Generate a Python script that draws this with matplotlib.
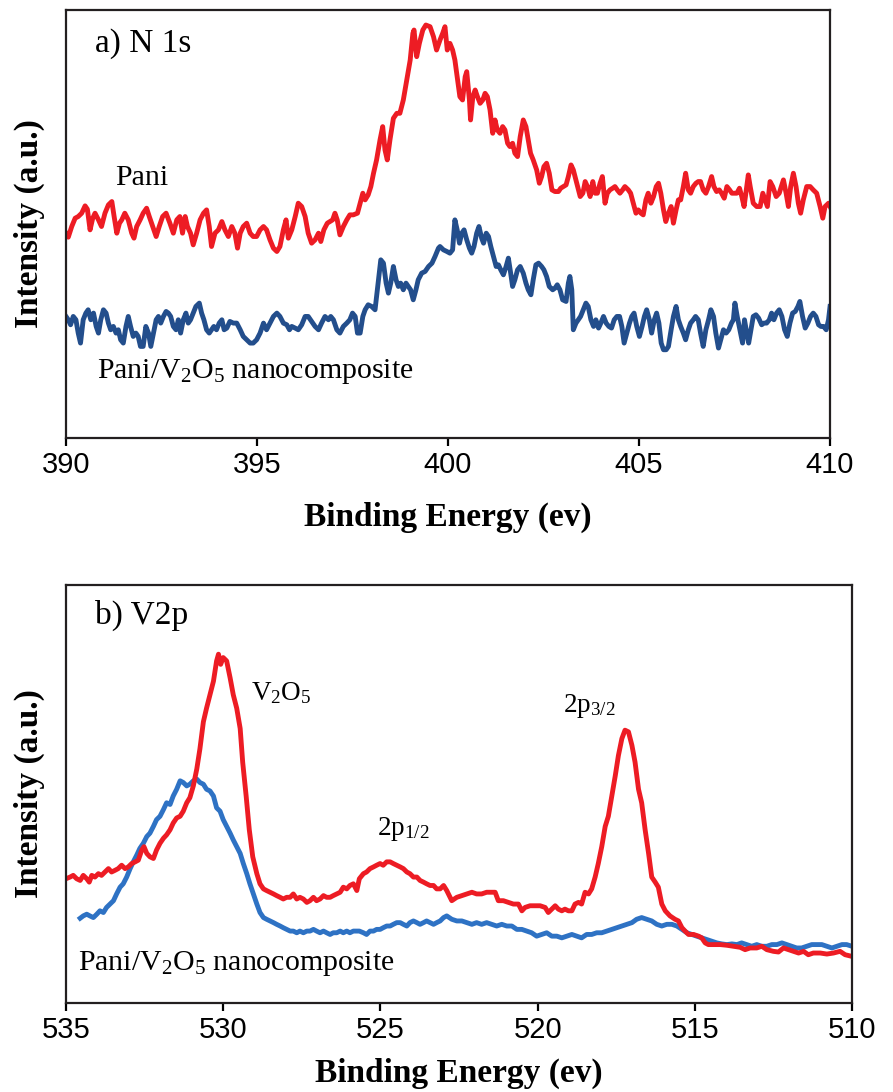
import matplotlib
matplotlib.use("Agg")
import matplotlib.pyplot as plt

plt.rcParams['mathtext.fontset'] = 'custom'
plt.rcParams['mathtext.rm'] = 'Liberation Serif'
plt.rcParams['mathtext.it'] = 'Liberation Serif:italic'

# ---------------- Panel a) N 1s (eV, intensity a.u.) ----------------
n1s_pani = [
    (390.00, 61.5), (390.06, 60.3), (390.15, 63.5), (390.24, 66.0), (390.32, 66.5), (390.41, 67.5),
    (390.50, 69.7), (390.56, 68.7), (390.63, 62.5), (390.70, 66.0), (390.76, 67.5), (390.85, 65.5),
    (390.93, 63.5), (391.02, 67.5), (391.11, 70.0), (391.20, 71.0), (391.26, 66.5), (391.33, 61.5),
    (391.40, 64.5), (391.46, 65.5), (391.54, 67.5), (391.63, 65.5), (391.72, 61.5), (391.78, 60.0),
    (391.85, 63.5), (391.94, 65.5), (392.02, 67.5), (392.11, 69.0), (392.18, 66.5), (392.27, 63.5),
    (392.36, 60.5), (392.44, 63.5), (392.53, 66.5), (392.62, 67.5), (392.72, 64.5), (392.81, 61.5),
    (392.90, 65.5), (392.98, 66.5), (393.05, 61.5), (393.12, 66.5), (393.18, 63.5), (393.26, 61.5),
    (393.33, 58.0), (393.42, 61.5), (393.51, 65.5), (393.60, 67.5), (393.68, 68.5), (393.75, 63.5),
    (393.81, 57.5), (393.90, 61.5), (393.99, 62.5), (394.08, 65.0), (394.16, 62.5), (394.25, 60.5),
    (394.34, 63.5), (394.42, 61.5), (394.49, 57.0), (394.56, 61.5), (394.64, 63.5), (394.73, 64.5),
    (394.82, 61.5), (394.90, 60.5), (394.99, 60.5), (395.08, 62.5), (395.17, 63.5), (395.25, 62.5),
    (395.34, 59.5), (395.43, 57.0), (395.52, 56.0), (395.60, 57.5), (395.69, 62.5), (395.76, 65.5),
    (395.82, 60.0), (395.91, 62.5), (396.00, 66.5), (396.08, 70.5), (396.17, 69.5), (396.26, 66.5),
    (396.34, 61.5), (396.43, 58.5), (396.52, 59.5), (396.61, 61.5), (396.67, 59.0), (396.75, 62.5),
    (396.84, 64.5), (396.91, 65.0), (396.98, 65.5), (397.04, 67.5), (397.10, 65.5), (397.17, 61.0),
    (397.26, 63.5), (397.35, 65.5), (397.43, 67.0), (397.52, 67.0), (397.63, 67.5), (397.70, 70.5),
    (397.77, 73.5), (397.83, 71.5), (397.91, 73.0), (397.98, 75.5), (398.05, 79.5), (398.13, 83.5),
    (398.22, 89.5), (398.29, 93.5), (398.35, 86.5), (398.41, 83.5), (398.48, 89.5), (398.57, 96.0),
    (398.66, 97.5), (398.74, 97.5), (398.83, 101.5), (398.92, 107.5), (399.01, 113.5), (399.08, 121.5),
    (399.11, 122.5), (399.18, 114.5), (399.25, 118.5), (399.34, 122.5), (399.42, 124.0), (399.53, 123.5),
    (399.62, 120.5), (399.70, 116.5), (399.79, 119.5), (399.86, 121.5), (399.92, 123.5), (399.98, 116.5),
    (400.05, 118.5), (400.12, 116.5), (400.18, 113.5), (400.24, 108.5), (400.31, 102.5), (400.38, 101.5),
    (400.45, 108.5), (400.49, 110.0), (400.56, 101.5), (400.59, 95.5), (400.65, 102.5), (400.71, 104.5),
    (400.77, 102.5), (400.84, 100.5), (400.91, 101.5), (400.97, 103.5), (401.03, 102.5), (401.10, 98.5),
    (401.17, 91.5), (401.23, 95.5), (401.29, 92.5), (401.36, 91.5), (401.43, 93.5), (401.49, 92.5),
    (401.56, 88.5), (401.62, 87.5), (401.69, 88.5), (401.75, 85.5), (401.82, 84.5), (401.89, 90.5),
    (401.97, 95.5), (402.04, 93.5), (402.10, 89.5), (402.16, 85.5), (402.23, 83.5), (402.32, 80.5),
    (402.39, 76.5), (402.45, 78.5), (402.51, 81.5), (402.58, 82.5), (402.65, 79.5), (402.72, 74.5),
    (402.80, 74.0), (402.89, 74.0), (402.95, 75.0), (403.02, 75.5), (403.09, 76.0), (403.15, 78.5),
    (403.22, 82.0), (403.28, 80.5), (403.37, 76.5), (403.46, 72.5), (403.53, 73.5), (403.59, 77.0),
    (403.65, 75.5), (403.72, 72.5), (403.79, 77.0), (403.85, 73.5), (403.91, 73.5), (403.98, 76.5),
    (404.04, 78.5), (404.11, 70.5), (404.17, 73.5), (404.24, 74.5), (404.31, 75.0), (404.37, 75.5),
    (404.43, 74.5), (404.50, 73.5), (404.57, 74.5), (404.63, 75.5), (404.72, 74.5), (404.78, 73.5),
    (404.85, 70.5), (404.92, 67.5), (404.98, 68.5), (405.05, 67.5), (405.11, 67.0), (405.18, 71.5),
    (405.24, 73.5), (405.31, 70.5), (405.38, 72.5), (405.45, 75.5), (405.51, 76.5), (405.57, 73.5),
    (405.64, 68.5), (405.70, 65.0), (405.77, 67.5), (405.84, 69.5), (405.90, 64.5), (405.97, 68.5),
    (406.03, 71.5), (406.09, 71.5), (406.16, 75.5), (406.22, 79.5), (406.29, 74.5), (406.35, 73.5),
    (406.42, 75.5), (406.49, 76.5), (406.55, 77.0), (406.61, 77.0), (406.68, 74.5), (406.75, 73.5),
    (406.82, 75.5), (406.90, 78.5), (406.96, 75.5), (407.03, 74.0), (407.10, 74.5), (407.16, 73.5),
    (407.23, 72.0), (407.30, 75.5), (407.37, 74.5), (407.43, 73.5), (407.49, 73.5), (407.56, 73.5),
    (407.63, 75.0), (407.69, 72.5), (407.75, 69.5), (407.82, 75.5), (407.86, 79.0), (407.91, 75.5),
    (407.99, 70.5), (408.08, 69.5), (408.17, 69.5), (408.24, 73.5), (408.30, 71.5), (408.36, 69.5),
    (408.43, 77.0), (408.50, 75.5), (408.59, 72.5), (408.67, 73.5), (408.78, 77.5), (408.85, 73.5),
    (408.91, 69.5), (408.97, 75.5), (409.04, 79.5), (409.11, 75.5), (409.17, 70.5), (409.23, 67.5),
    (409.30, 71.5), (409.39, 75.5), (409.48, 75.5), (409.56, 74.5), (409.65, 73.5), (409.74, 69.5),
    (409.81, 66.0), (409.87, 69.5), (409.96, 70.5), (410.00, 69.5),
]

n1s_composite = [
    (390.00, 36.5), (390.06, 35.5), (390.12, 34.0), (390.19, 36.5), (390.26, 35.5), (390.32, 31.5),
    (390.38, 28.5), (390.45, 35.5), (390.52, 37.5), (390.58, 38.5), (390.65, 35.5), (390.72, 37.5),
    (390.79, 33.5), (390.85, 31.5), (390.91, 35.5), (390.98, 38.5), (391.05, 37.5), (391.11, 34.5),
    (391.17, 32.5), (391.24, 33.5), (391.31, 31.5), (391.37, 32.5), (391.43, 29.5), (391.50, 28.5),
    (391.57, 33.5), (391.63, 36.5), (391.69, 33.5), (391.76, 30.5), (391.83, 31.5), (391.89, 30.5),
    (391.95, 27.5), (392.02, 27.5), (392.09, 33.5), (392.16, 31.5), (392.22, 27.5), (392.29, 31.5),
    (392.36, 35.5), (392.42, 36.5), (392.48, 34.5), (392.55, 36.5), (392.62, 38.0), (392.68, 37.5),
    (392.74, 36.5), (392.81, 33.5), (392.88, 32.5), (392.94, 35.5), (393.00, 31.5), (393.07, 35.5),
    (393.14, 37.5), (393.20, 34.5), (393.26, 35.5), (393.33, 37.5), (393.40, 39.5), (393.49, 40.5),
    (393.55, 37.5), (393.61, 35.5), (393.68, 32.5), (393.75, 31.5), (393.81, 32.5), (393.87, 33.5),
    (393.94, 32.5), (394.01, 34.5), (394.08, 35.5), (394.14, 32.5), (394.21, 33.0), (394.29, 35.0),
    (394.38, 34.5), (394.47, 34.5), (394.56, 32.5), (394.64, 30.5), (394.73, 29.5), (394.82, 28.5),
    (394.90, 28.5), (394.99, 29.5), (395.08, 31.5), (395.17, 34.5), (395.25, 32.5), (395.34, 34.5),
    (395.43, 36.5), (395.52, 37.5), (395.60, 36.5), (395.69, 34.5), (395.78, 34.0), (395.85, 32.5),
    (395.91, 33.5), (396.00, 33.0), (396.08, 32.5), (396.17, 34.0), (396.26, 36.5), (396.34, 36.5),
    (396.43, 35.0), (396.52, 33.5), (396.61, 32.5), (396.69, 34.5), (396.78, 36.5), (396.87, 35.5),
    (396.93, 36.5), (397.00, 35.5), (397.09, 32.5), (397.17, 31.5), (397.26, 33.5), (397.35, 34.5),
    (397.43, 35.5), (397.50, 37.5), (397.57, 36.5), (397.63, 31.5), (397.70, 31.5), (397.77, 36.5),
    (397.83, 38.5), (397.91, 40.0), (398.00, 39.5), (398.09, 38.5), (398.18, 47.5), (398.24, 53.5),
    (398.31, 52.5), (398.38, 46.5), (398.44, 43.5), (398.50, 46.5), (398.57, 51.5), (398.64, 47.5),
    (398.70, 45.5), (398.76, 46.5), (398.83, 44.5), (398.90, 46.5), (398.96, 45.5), (399.02, 44.5),
    (399.09, 41.5), (399.16, 44.5), (399.22, 47.5), (399.31, 49.5), (399.40, 50.0), (399.49, 51.5),
    (399.58, 52.5), (399.66, 54.5), (399.75, 57.0), (399.79, 57.5), (399.88, 56.5), (399.97, 56.0),
    (400.05, 55.5), (400.12, 56.5), (400.18, 65.5), (400.24, 62.5), (400.30, 58.5), (400.36, 61.5),
    (400.42, 62.5), (400.49, 59.5), (400.56, 57.0), (400.62, 55.5), (400.68, 57.5), (400.75, 61.5),
    (400.81, 63.5), (400.88, 60.0), (400.93, 58.5), (401.00, 61.5), (401.06, 60.5), (401.12, 57.5),
    (401.19, 54.5), (401.26, 51.5), (401.32, 52.0), (401.38, 50.5), (401.45, 49.0), (401.52, 51.5),
    (401.58, 54.0), (401.64, 49.5), (401.69, 45.5), (401.75, 47.5), (401.82, 50.5), (401.89, 51.5),
    (401.97, 49.5), (402.04, 46.5), (402.10, 44.5), (402.17, 43.0), (402.23, 47.5), (402.30, 52.0),
    (402.37, 52.5), (402.45, 51.5), (402.51, 50.5), (402.58, 48.5), (402.65, 45.5), (402.74, 44.5),
    (402.80, 45.0), (402.86, 46.0), (402.93, 44.5), (403.00, 41.5), (403.09, 41.0), (403.15, 46.5),
    (403.19, 48.5), (403.24, 44.5), (403.28, 32.5), (403.35, 34.5), (403.41, 35.5), (403.47, 36.5),
    (403.54, 38.5), (403.61, 40.5), (403.67, 39.5), (403.74, 35.5), (403.81, 33.5), (403.87, 35.5),
    (403.94, 33.0), (404.00, 34.5), (404.07, 36.5), (404.14, 34.5), (404.21, 33.5), (404.28, 33.0),
    (404.35, 35.5), (404.42, 36.5), (404.49, 36.5), (404.55, 33.5), (404.61, 28.5), (404.68, 31.5),
    (404.75, 34.5), (404.81, 36.5), (404.87, 37.5), (404.94, 33.5), (405.01, 30.5), (405.08, 33.5),
    (405.14, 36.5), (405.20, 38.5), (405.27, 35.5), (405.33, 31.5), (405.40, 35.5), (405.46, 37.5),
    (405.52, 34.5), (405.58, 28.5), (405.64, 26.5), (405.71, 26.5), (405.77, 27.5), (405.84, 32.5),
    (405.90, 36.5), (405.97, 39.5), (406.03, 35.5), (406.09, 33.5), (406.16, 31.5), (406.22, 29.5),
    (406.29, 32.5), (406.35, 34.5), (406.42, 35.5), (406.48, 36.5), (406.55, 35.5), (406.61, 31.5),
    (406.68, 27.5), (406.75, 32.5), (406.82, 35.5), (406.88, 38.5), (406.95, 36.5), (407.01, 31.5),
    (407.08, 27.0), (407.14, 29.5), (407.21, 32.5), (407.28, 31.5), (407.35, 32.5), (407.42, 34.5),
    (407.47, 35.5), (407.51, 40.5), (407.57, 36.5), (407.64, 32.5), (407.71, 28.5), (407.76, 35.5),
    (407.82, 31.5), (407.87, 28.5), (407.93, 32.5), (407.99, 36.5), (408.06, 37.0), (408.13, 36.0),
    (408.21, 34.0), (408.27, 34.5), (408.34, 34.5), (408.41, 35.5), (408.47, 37.5), (408.53, 35.5),
    (408.60, 37.5), (408.67, 38.5), (408.74, 36.5), (408.81, 32.5), (408.88, 30.5), (408.95, 34.5),
    (409.02, 37.5), (409.09, 38.0), (409.16, 39.5), (409.21, 41.0), (409.28, 36.5), (409.35, 33.0),
    (409.42, 34.5), (409.49, 36.5), (409.56, 37.5), (409.63, 36.5), (409.70, 34.0), (409.76, 33.5),
    (409.83, 33.5), (409.90, 32.5), (409.96, 35.5), (410.00, 39.5),
]

# ---------------- Panel b) V 2p (eV, intensity a.u.) ----------------
v2p_v2o5 = [
    (535.00, 36.8), (534.87, 37.3), (534.77, 37.8), (534.66, 36.8), (534.55, 36.3), (534.45, 37.8),
    (534.34, 36.8), (534.26, 35.8), (534.18, 37.8), (534.08, 37.3), (533.97, 38.3), (533.87, 37.8),
    (533.76, 38.8), (533.65, 39.8), (533.55, 38.8), (533.44, 39.3), (533.34, 39.8), (533.23, 40.8),
    (533.12, 39.8), (533.02, 40.3), (532.91, 41.3), (532.80, 41.8), (532.70, 42.3), (532.59, 45.3),
    (532.52, 46.3), (532.43, 44.3), (532.33, 43.3), (532.22, 42.8), (532.12, 45.3), (532.01, 47.3),
    (531.90, 48.8), (531.80, 49.8), (531.69, 51.3), (531.59, 53.3), (531.48, 54.8), (531.37, 55.3),
    (531.27, 56.8), (531.16, 59.3), (531.06, 60.8), (530.95, 64.3), (530.84, 69.3), (530.74, 75.3),
    (530.63, 83.3), (530.53, 87.3), (530.42, 91.3), (530.31, 95.3), (530.21, 101.3), (530.15, 103.3),
    (530.08, 100.3), (530.00, 102.3), (529.89, 101.3), (529.78, 96.3), (529.68, 91.3), (529.57, 87.3),
    (529.46, 81.3), (529.38, 71.3), (529.27, 61.3), (529.17, 51.3), (529.06, 43.3), (528.93, 38.3),
    (528.83, 35.3), (528.72, 33.8), (528.62, 33.3), (528.51, 32.8), (528.40, 32.3), (528.30, 31.8),
    (528.19, 31.3), (528.09, 30.8), (527.98, 31.3), (527.87, 31.3), (527.77, 32.3), (527.66, 30.8),
    (527.56, 31.3), (527.45, 30.8), (527.34, 29.8), (527.24, 30.3), (527.13, 31.3), (527.03, 30.3),
    (526.92, 30.8), (526.81, 31.8), (526.71, 31.3), (526.60, 31.3), (526.50, 31.8), (526.39, 32.3),
    (526.28, 32.8), (526.18, 34.3), (526.07, 33.8), (525.97, 34.8), (525.86, 35.3), (525.75, 33.3),
    (525.67, 36.8), (525.54, 38.3), (525.44, 38.8), (525.33, 39.8), (525.22, 40.3), (525.12, 40.8),
    (525.01, 41.3), (524.91, 40.8), (524.80, 41.8), (524.69, 41.8), (524.59, 41.3), (524.48, 40.8),
    (524.37, 40.3), (524.27, 39.8), (524.16, 38.8), (524.06, 38.3), (523.95, 37.3), (523.84, 37.3),
    (523.74, 36.3), (523.63, 35.8), (523.53, 35.3), (523.42, 34.8), (523.31, 34.8), (523.21, 33.8),
    (523.10, 33.8), (522.99, 34.8), (522.89, 33.3), (522.73, 30.3), (522.57, 31.3), (522.41, 31.8),
    (522.25, 32.3), (522.09, 32.8), (521.94, 32.3), (521.78, 32.3), (521.62, 32.8), (521.46, 32.8),
    (521.35, 32.8), (521.25, 30.3), (521.09, 30.3), (520.93, 29.8), (520.77, 29.3), (520.61, 29.3),
    (520.50, 27.3), (520.40, 28.3), (520.24, 28.8), (520.08, 28.8), (519.92, 28.8), (519.76, 28.3),
    (519.66, 26.8), (519.55, 27.8), (519.44, 28.8), (519.34, 27.8), (519.23, 27.3), (519.13, 27.8),
    (519.02, 27.3), (518.91, 27.3), (518.81, 29.3), (518.70, 29.8), (518.60, 29.3), (518.49, 32.8),
    (518.38, 32.3), (518.28, 33.8), (518.17, 37.3), (518.07, 41.3), (517.96, 46.3), (517.85, 52.3),
    (517.75, 55.3), (517.64, 61.3), (517.53, 67.3), (517.43, 73.3), (517.32, 78.3), (517.22, 80.8),
    (517.11, 80.3), (517.00, 76.3), (516.90, 71.3), (516.79, 63.3), (516.69, 59.3), (516.58, 51.3),
    (516.47, 44.3), (516.37, 37.3), (516.26, 35.8), (516.16, 34.3), (516.05, 29.3), (515.94, 27.3),
    (515.79, 25.8), (515.63, 24.8), (515.52, 24.3), (515.41, 22.3), (515.31, 21.3), (515.20, 20.3),
    (515.04, 20.3), (514.88, 19.8), (514.78, 19.3), (514.67, 17.8), (514.57, 17.3), (514.41, 17.3),
    (514.19, 17.3), (513.98, 17.1), (513.77, 16.8), (513.56, 16.5), (513.40, 15.8), (513.24, 16.3),
    (513.03, 16.3), (512.87, 16.8), (512.71, 15.8), (512.50, 15.3), (512.34, 15.1), (512.18, 16.3),
    (512.02, 15.8), (511.86, 15.3), (511.70, 14.8), (511.54, 15.3), (511.39, 14.3), (511.23, 14.8),
    (511.01, 14.8), (510.80, 14.5), (510.59, 14.8), (510.38, 15.3), (510.22, 14.3), (510.00, 13.8),
]

v2p_composite = [
    (534.55, 25.1), (534.45, 25.8), (534.34, 26.3), (534.24, 25.8), (534.13, 25.3), (534.02, 26.3),
    (533.92, 27.3), (533.81, 26.8), (533.71, 28.3), (533.60, 29.3), (533.49, 30.3), (533.39, 32.3),
    (533.28, 34.3), (533.18, 35.3), (533.07, 37.3), (532.96, 39.8), (532.86, 41.8), (532.75, 43.8),
    (532.65, 45.8), (532.54, 47.3), (532.43, 49.3), (532.33, 50.3), (532.22, 52.3), (532.12, 54.3),
    (532.01, 55.3), (531.90, 57.3), (531.80, 59.3), (531.69, 58.8), (531.59, 61.3), (531.48, 63.3),
    (531.37, 65.8), (531.27, 65.3), (531.16, 64.3), (531.06, 64.8), (530.95, 65.8), (530.84, 66.3),
    (530.74, 65.3), (530.63, 64.8), (530.53, 63.3), (530.42, 62.8), (530.31, 61.3), (530.21, 57.8),
    (530.10, 56.8), (530.00, 54.3), (529.89, 52.3), (529.78, 50.3), (529.68, 48.3), (529.57, 46.3),
    (529.46, 44.3), (529.36, 41.3), (529.25, 38.3), (529.15, 35.3), (529.04, 32.3), (528.93, 29.3),
    (528.83, 26.8), (528.72, 25.3), (528.62, 24.8), (528.51, 24.3), (528.40, 23.8), (528.30, 23.3),
    (528.19, 22.8), (528.09, 22.3), (527.98, 21.8), (527.87, 21.3), (527.77, 21.3), (527.66, 20.8),
    (527.56, 21.3), (527.45, 20.8), (527.34, 21.3), (527.24, 21.3), (527.13, 21.8), (527.03, 21.3),
    (526.92, 20.8), (526.81, 21.3), (526.71, 20.8), (526.60, 20.3), (526.50, 20.8), (526.39, 20.8),
    (526.28, 21.3), (526.18, 20.8), (526.07, 21.3), (525.97, 20.8), (525.86, 21.3), (525.75, 21.3),
    (525.67, 21.3), (525.54, 20.8), (525.44, 20.3), (525.33, 21.3), (525.22, 21.3), (525.12, 21.8),
    (525.01, 21.8), (524.91, 22.3), (524.80, 22.8), (524.69, 22.8), (524.59, 23.3), (524.48, 23.8),
    (524.37, 23.8), (524.27, 23.3), (524.16, 22.8), (524.06, 23.8), (523.95, 24.3), (523.84, 23.8),
    (523.74, 23.3), (523.63, 23.8), (523.53, 24.3), (523.42, 23.8), (523.31, 23.3), (523.21, 23.8),
    (523.10, 24.3), (522.99, 25.3), (522.89, 25.8), (522.73, 24.8), (522.57, 24.3), (522.41, 24.3),
    (522.25, 23.8), (522.09, 23.3), (521.94, 23.8), (521.78, 23.3), (521.62, 23.8), (521.46, 23.3),
    (521.30, 22.8), (521.14, 23.3), (520.98, 22.8), (520.82, 22.8), (520.66, 21.8), (520.50, 21.8),
    (520.35, 21.3), (520.19, 20.8), (520.03, 19.8), (519.87, 20.3), (519.71, 20.8), (519.55, 19.8),
    (519.39, 19.8), (519.23, 19.3), (519.07, 19.8), (518.91, 20.3), (518.75, 19.8), (518.60, 19.3),
    (518.44, 20.3), (518.28, 20.3), (518.12, 20.8), (517.96, 20.8), (517.80, 21.3), (517.64, 21.8),
    (517.48, 22.3), (517.32, 22.8), (517.16, 23.3), (517.00, 23.8), (516.85, 24.8), (516.69, 25.3),
    (516.53, 24.8), (516.37, 24.3), (516.21, 23.3), (516.05, 22.8), (515.89, 23.3), (515.73, 23.3),
    (515.57, 22.8), (515.41, 21.8), (515.25, 20.8), (515.10, 20.3), (514.94, 19.8), (514.78, 19.3),
    (514.62, 18.8), (514.46, 18.3), (514.30, 17.8), (514.14, 17.5), (513.98, 17.3), (513.82, 17.5),
    (513.66, 17.3), (513.51, 17.8), (513.35, 17.3), (513.19, 16.8), (513.03, 17.3), (512.87, 16.8),
    (512.71, 16.8), (512.55, 17.3), (512.39, 17.3), (512.23, 17.8), (512.07, 17.3), (511.92, 16.8),
    (511.76, 16.3), (511.60, 16.3), (511.44, 16.8), (511.28, 17.3), (511.12, 17.3), (510.96, 17.3),
    (510.80, 16.8), (510.64, 16.3), (510.48, 16.8), (510.32, 17.3), (510.17, 17.3), (510.00, 16.8),
]

n1s_ticks = [390, 395, 400, 405, 410]
v2p_ticks = [535, 530, 525, 520, 515, 510]

RED = '#ED1C24'
DARK_BLUE = '#234E8C'
LIGHT_BLUE = '#2E72C4'
SERIF = 'Liberation Serif'
SANS = 'Liberation Sans'

fig = plt.figure(figsize=(8.93, 10.92), dpi=100)
ax1 = fig.add_axes([0.0739, 0.5989, 0.8556, 0.3919])
ax2 = fig.add_axes([0.0739, 0.0815, 0.8802, 0.3828])


def style(ax, ticks, xpad):
    ax.set_yticks([])
    ax.set_xticks(ticks)
    ax.set_xticklabels([str(t) for t in ticks], fontfamily=SANS, fontsize=21)
    ax.tick_params(axis='x', direction='out', length=5.5, width=1.6, pad=4)
    for sp in ax.spines.values():
        sp.set_linewidth(1.6)
        sp.set_color('#231F20')
    ax.set_xlabel('Binding Energy (ev)', fontfamily=SERIF, fontweight='bold', fontsize=24, labelpad=xpad)
    ax.set_ylabel('Intensity (a.u.)', fontfamily=SERIF, fontweight='bold', fontsize=24, labelpad=15)


x, y = zip(*n1s_pani)
ax1.plot(x, y, color=RED, lw=3.5, solid_joinstyle='round')
x, y = zip(*n1s_composite)
ax1.plot(x, y, color=DARK_BLUE, lw=3.5, solid_joinstyle='round')
ax1.set_xlim(390, 410)
ax1.set_ylim(0, 128.5)
style(ax1, n1s_ticks, 16)
ax1.text(390.76, 115.9, 'a) N 1s', fontfamily=SERIF, fontsize=24, va='baseline')
ax1.text(391.28, 76.0, 'Pani', fontfamily=SERIF, fontsize=21.5, va='baseline')
ax1.text(390.82, 18.0, r'Pani/V$_2$O$_5$ nanocomposite', fontfamily=SERIF, fontsize=21.5, va='baseline')

x, y = zip(*v2p_composite)
ax2.plot(x, y, color=LIGHT_BLUE, lw=3.5, solid_joinstyle='round')
x, y = zip(*v2p_v2o5)
ax2.plot(x, y, color=RED, lw=3.5, solid_joinstyle='round')
ax2.set_xlim(535, 510)
ax2.set_ylim(0, 123.8)
style(ax2, v2p_ticks, 10)
ax2.text(534.08, 112.3, 'b) V2p', fontfamily=SERIF, fontsize=24, va='baseline')
ax2.text(529.13, 89.8, r'V$_2$O$_5$', fontfamily=SERIF, fontsize=19.5, va='baseline')
ax2.text(525.12, 49.8, r'2p$_{1/2}$', fontfamily=SERIF, fontsize=19.5, va='baseline')
ax2.text(519.20, 86.3, r'2p$_{3/2}$', fontfamily=SERIF, fontsize=19.5, va='baseline')
ax2.text(534.61, 9.8, r'Pani/V$_2$O$_5$ nanocomposite', fontfamily=SERIF, fontsize=21.5, va='baseline')

fig.savefig('out.png', dpi=100)
